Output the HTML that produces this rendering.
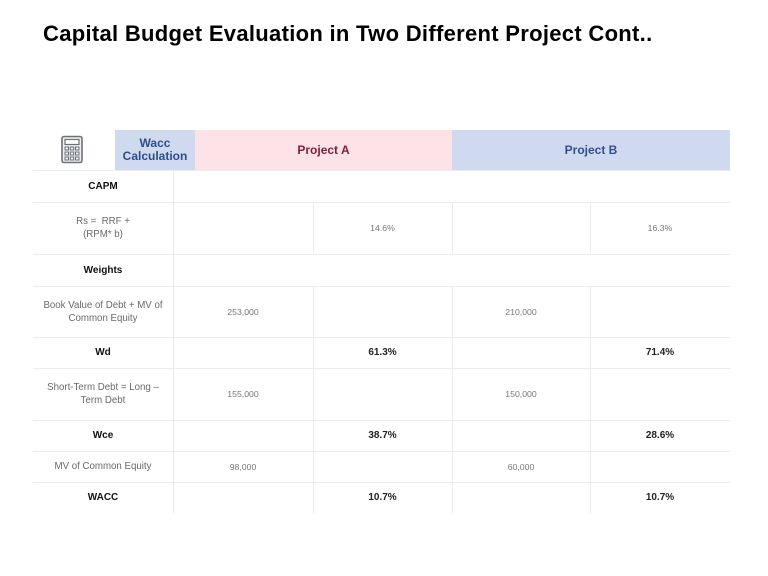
<!DOCTYPE html>
<html><head><meta charset="utf-8">
<style>
html,body{margin:0;padding:0;background:#fff;}
body{width:768px;height:576px;position:relative;overflow:hidden;font-family:"Liberation Sans",sans-serif;}
.abs{position:absolute;}
.title{left:43px;top:21px;font-size:22px;font-weight:bold;color:#000;white-space:nowrap;letter-spacing:0.3px;}
.hl{position:absolute;left:33px;width:697px;height:1px;background:#ececec;}
.vl{position:absolute;width:1px;background:#ececec;}
.cell{position:absolute;display:flex;align-items:center;justify-content:center;text-align:center;}
.lab{color:#6a6a6a;font-size:9.7px;line-height:13px;}
.blab{color:#111;font-size:10px;font-weight:bold;}
.val{color:#777;font-size:8.7px;}
.bval{color:#222;font-size:10px;font-weight:bold;}
</style></head><body>
<div class="abs title">Capital Budget Evaluation in Two Different Project Cont..</div>

<!-- header -->
<div class="cell" style="left:115px;top:130px;width:80px;height:40px;background:#cfdaef;color:#2d4d8c;font-weight:bold;font-size:12px;line-height:13px;">Wacc<br>Calculation</div>
<div class="cell" style="left:195px;top:130px;width:257px;height:40px;background:#fde2e8;color:#7b1f3c;font-weight:bold;font-size:12px;">Project A</div>
<div class="cell" style="left:452px;top:130px;width:278px;height:40px;background:#cfdaf0;color:#34508c;font-weight:bold;font-size:12px;">Project B</div>

<!-- calculator icon -->
<svg class="abs" style="left:60px;top:135px" width="24" height="29" viewBox="0 0 24 29">
<rect x="2" y="1.5" width="20" height="26" rx="2" fill="#eef0f2" stroke="#6d7278" stroke-width="1.6"/>
<rect x="5" y="4.5" width="14" height="5" fill="#fff" stroke="#6d7278" stroke-width="1.2"/>
<g fill="none" stroke="#6d7278" stroke-width="1">
<rect x="5" y="12" width="3.5" height="3"/><rect x="10.25" y="12" width="3.5" height="3"/><rect x="15.5" y="12" width="3.5" height="3"/>
<rect x="5" y="17" width="3.5" height="3"/><rect x="10.25" y="17" width="3.5" height="3"/><rect x="15.5" y="17" width="3.5" height="3"/>
<rect x="5" y="22" width="3.5" height="3"/><rect x="10.25" y="22" width="3.5" height="3"/><rect x="15.5" y="22" width="3.5" height="3"/>
</g></svg>

<!-- grid lines -->
<div class="hl" style="top:170px"></div>
<div class="hl" style="top:202px"></div>
<div class="hl" style="top:254px"></div>
<div class="hl" style="top:286px"></div>
<div class="hl" style="top:337px"></div>
<div class="hl" style="top:368px"></div>
<div class="hl" style="top:420px"></div>
<div class="hl" style="top:451px"></div>
<div class="hl" style="top:482px"></div>
<div class="vl" style="left:173px;top:170px;height:343px"></div>
<div class="vl" style="left:313px;top:202px;height:52px"></div>
<div class="vl" style="left:452px;top:202px;height:52px"></div>
<div class="vl" style="left:590px;top:202px;height:52px"></div>
<div class="vl" style="left:313px;top:286px;height:227px"></div>
<div class="vl" style="left:452px;top:286px;height:227px"></div>
<div class="vl" style="left:590px;top:286px;height:227px"></div>

<!-- labels -->
<div class="cell blab" style="left:33px;top:170px;width:140px;height:32px;">CAPM</div>
<div class="cell lab" style="left:33px;top:202px;width:140px;height:52px;">Rs = &nbsp;RRF +<br>(RPM* b)</div>
<div class="cell blab" style="left:33px;top:254px;width:140px;height:32px;">Weights</div>
<div class="cell lab" style="left:33px;top:286px;width:140px;height:51px;">Book Value of Debt + MV of<br>Common Equity</div>
<div class="cell blab" style="left:33px;top:337px;width:140px;height:31px;">Wd</div>
<div class="cell lab" style="left:33px;top:368px;width:140px;height:52px;">Short-Term Debt = Long –<br>Term Debt</div>
<div class="cell blab" style="left:33px;top:420px;width:140px;height:31px;">Wce</div>
<div class="cell lab" style="left:33px;top:451px;width:140px;height:31px;">MV of Common Equity</div>
<div class="cell blab" style="left:33px;top:482px;width:140px;height:31px;">WACC</div>

<!-- values -->
<div class="cell val" style="left:313px;top:202px;width:139px;height:52px;">14.6%</div>
<div class="cell val" style="left:590px;top:202px;width:140px;height:52px;">16.3%</div>
<div class="cell val" style="left:173px;top:286px;width:140px;height:51px;">253,000</div>
<div class="cell val" style="left:452px;top:286px;width:138px;height:51px;">210,000</div>
<div class="cell bval" style="left:313px;top:337px;width:139px;height:31px;">61.3%</div>
<div class="cell bval" style="left:590px;top:337px;width:140px;height:31px;">71.4%</div>
<div class="cell val" style="left:173px;top:368px;width:140px;height:52px;">155,000</div>
<div class="cell val" style="left:452px;top:368px;width:138px;height:52px;">150,000</div>
<div class="cell bval" style="left:313px;top:420px;width:139px;height:31px;">38.7%</div>
<div class="cell bval" style="left:590px;top:420px;width:140px;height:31px;">28.6%</div>
<div class="cell val" style="left:173px;top:451px;width:140px;height:31px;">98,000</div>
<div class="cell val" style="left:452px;top:451px;width:138px;height:31px;">60,000</div>
<div class="cell bval" style="left:313px;top:482px;width:139px;height:31px;">10.7%</div>
<div class="cell bval" style="left:590px;top:482px;width:140px;height:31px;">10.7%</div>
</body></html>
